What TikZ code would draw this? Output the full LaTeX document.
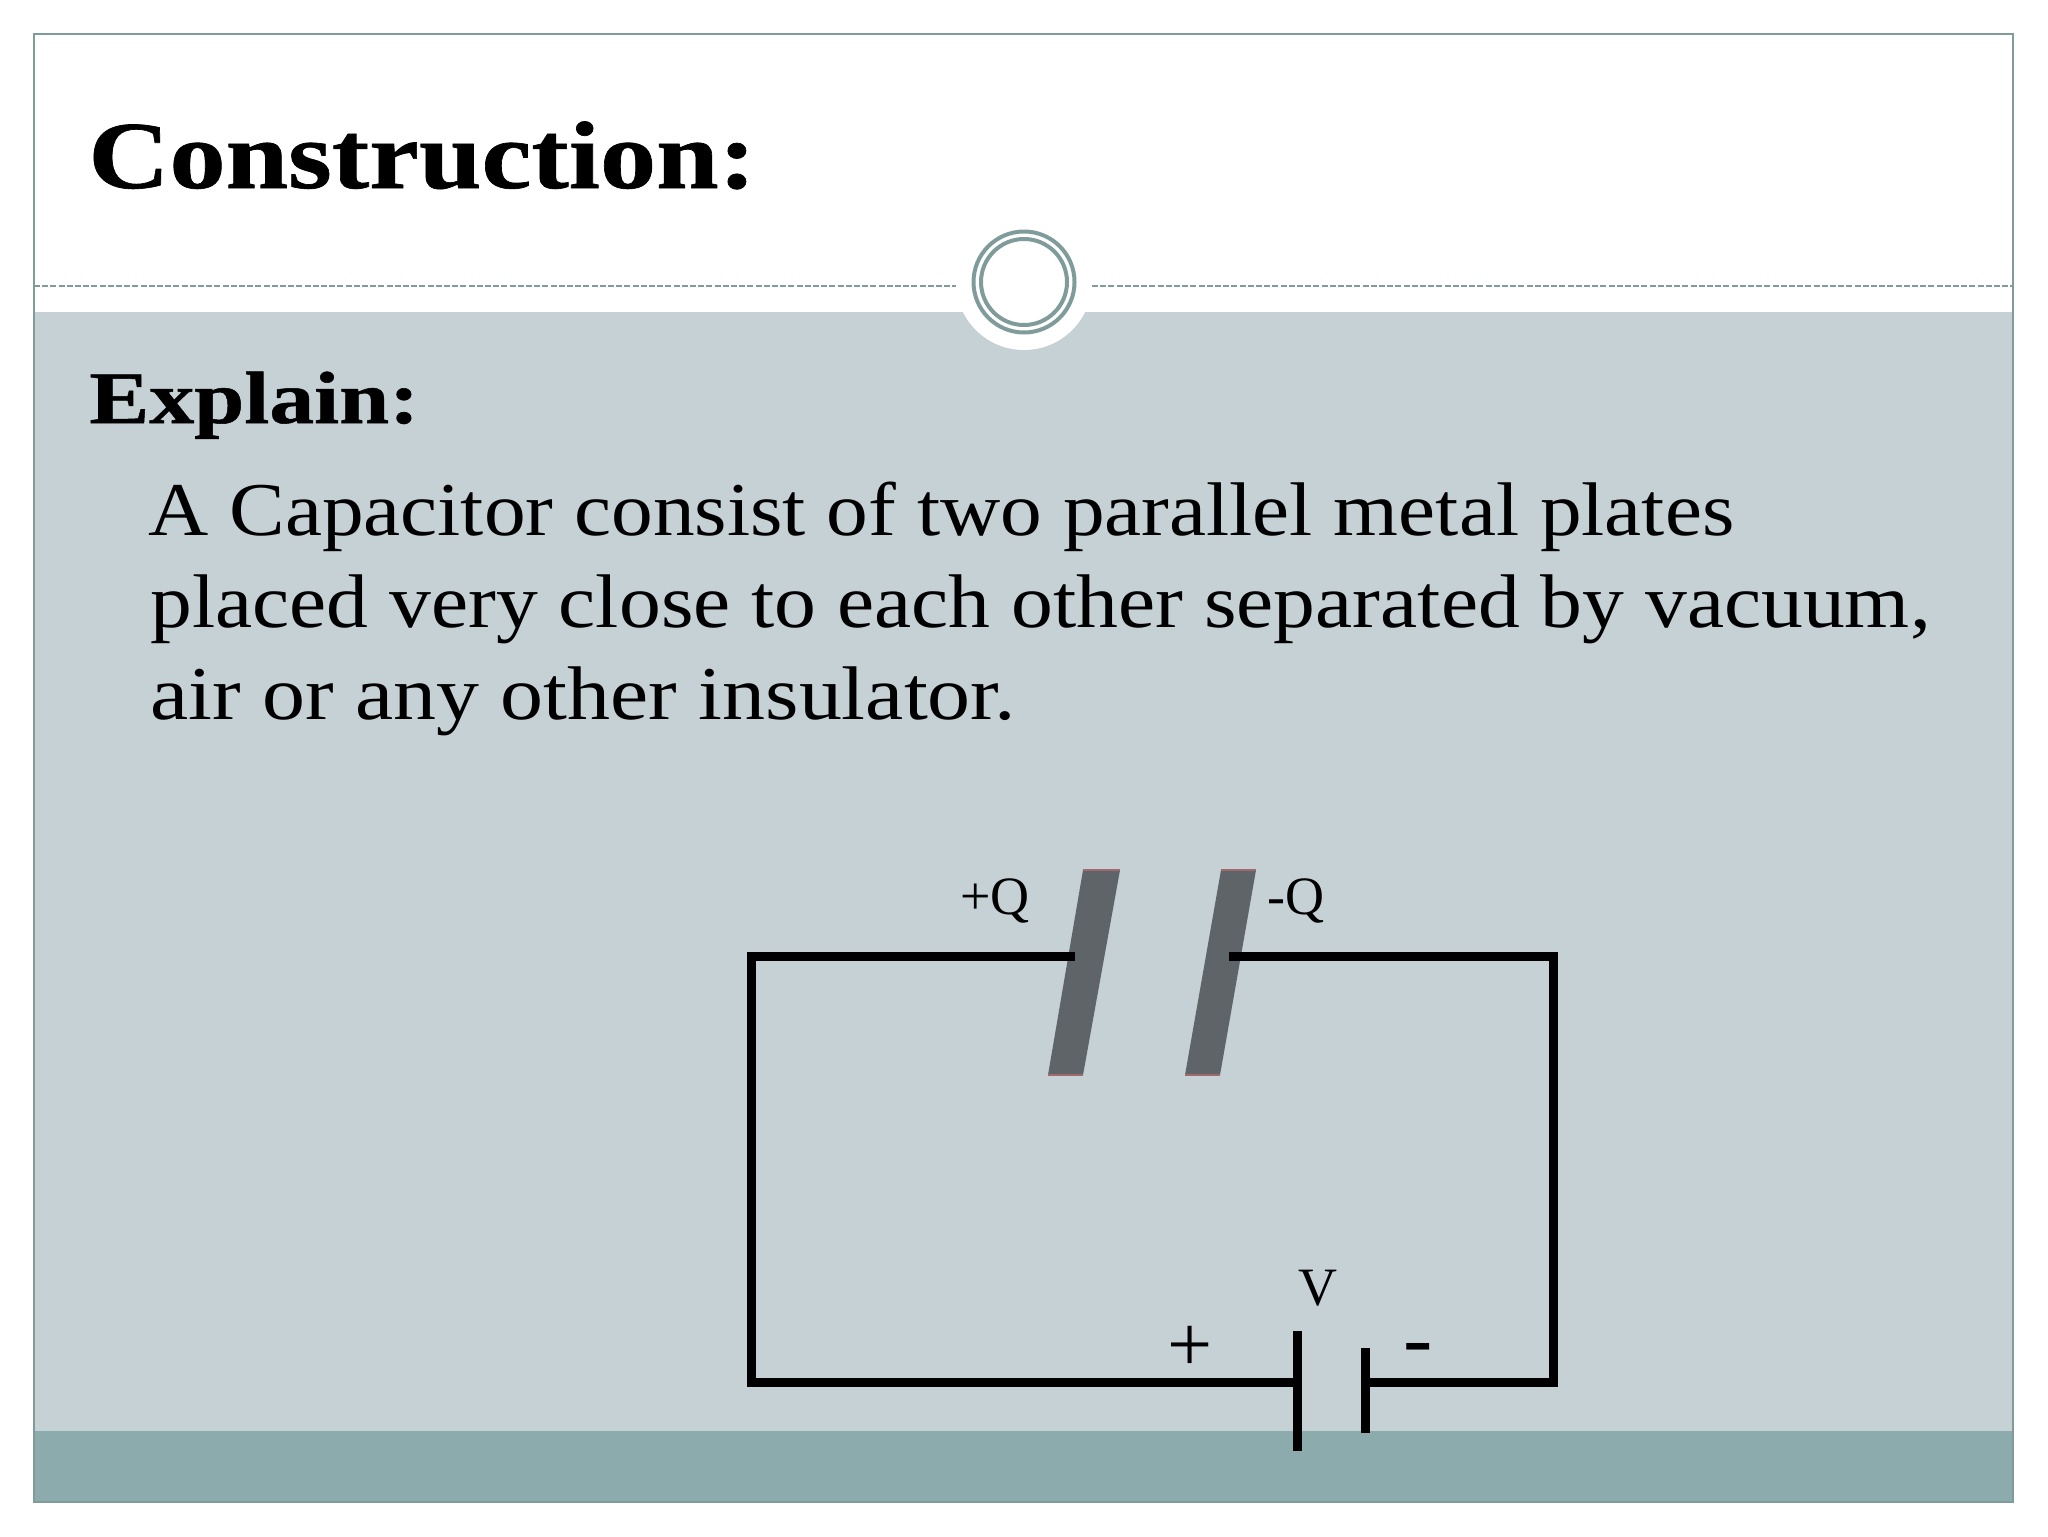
\documentclass[tikz,border=0pt]{standalone}
\usepackage{fontspec}
\setmainfont{Liberation Serif}
\newfontfamily\titlefont[FakeStretch=1.17,FakeBold=0.7]{Liberation Serif Bold}
\newfontfamily\headfont[FakeStretch=1.215,FakeBold=0.7]{Liberation Serif Bold}
\newfontfamily\bodyfont[FakeStretch=1.10]{Liberation Serif}
\newfontfamily\bodyfontwide[FakeStretch=1.13]{Liberation Serif}
\definecolor{framec}{HTML}{7F9C9B}
\definecolor{bodyc}{HTML}{C5D1D5}
\definecolor{footc}{HTML}{8CABAC}
\definecolor{platec}{HTML}{5F6468}
\definecolor{edgec}{HTML}{A06A6C}
\tikzset{
  wire/.style={line width=4.5pt,black,line cap=butt,line join=miter},
  capplate/.style={fill=platec,draw=none},
  plateedge/.style={draw=edgec,line width=1.2pt},
  ringline/.style={draw=framec,line width=2pt},
  dashrule/.style={draw=framec,line width=1pt,dash pattern=on 3pt off 1.1pt},
  title/.style={anchor=base west,inner sep=0pt,font=\titlefont\fontsize{48}{48}\selectfont},
  head/.style={anchor=base west,inner sep=0pt,font=\headfont\fontsize{37}{37}\selectfont},
  bodytext/.style={anchor=base west,inner sep=0pt,font=\bodyfont\fontsize{38}{38}\selectfont},
  small/.style={anchor=base west,inner sep=0pt,font=\fontsize{27}{27}\selectfont},
  sign/.style={anchor=base,inner sep=0pt,font=\fontsize{40}{40}\selectfont}
}
\begin{document}
\begin{tikzpicture}[x=0.5pt,y=-0.5pt]
\useasboundingbox (0,0) rectangle (2048,1536);
\fill[white] (0,0) rectangle (2048,1536);
% panels
\fill[bodyc] (34,312) rectangle (2013,1431);
\fill[footc] (34,1431) rectangle (2013,1502);
\draw[framec,line width=1pt] (34,34) rectangle (2013,1502);
% header rule and medallion
\fill[white] (1024,282) circle[radius=68];
\draw[dashrule] (34,286) -- (956,286);
\draw[dashrule] (1092,286) -- (2013,286);
\draw[ringline] (1024,282) circle[radius=50.5];
\draw[ringline] (1024,282) circle[radius=43];
% text
\node[title] (t) at (88,188) {Construction:};
\node[head] (h) at (89,423) {Explain:};
\node[bodytext] (l1) at (148,535) {{\addfontfeature{FakeStretch=1.097}A Capacitor consist of two parallel metal plates}};
\node[bodytext] (l2) at (150,627) {placed very close to each other separated by vacuum,};
\node[bodytext,font=\bodyfontwide\fontsize{38}{38}\selectfont] (l3) at (150,719) {air or any other insulator.};
% capacitor plates
\fill[capplate] (1083,870) -- (1120,870) -- (1083,1075) -- (1048,1075) -- cycle;
\fill[capplate] (1221,870) -- (1256,870) -- (1220,1075) -- (1185,1075) -- cycle;
\draw[plateedge] (1083,870) -- (1120,870);
\draw[plateedge] (1048,1075) -- (1083,1075);
\draw[plateedge] (1221,870) -- (1256,870);
\draw[plateedge] (1185,1075) -- (1220,1075);
% circuit
\coordinate (capL) at (1075,956);
\coordinate (capR) at (1229,956);
\coordinate (tl) at (751,956);
\coordinate (tr) at (1553,956);
\coordinate (bl) at (751,1382);
\coordinate (br) at (1553,1382);
\coordinate (batL) at (1297,1382);
\coordinate (batR) at (1365,1382);
\draw[wire] (capL) -- (tl) -- (bl) -- (batL);
\draw[wire] (capR) -- (tr) -- (br) -- (batR);
\draw[wire] (1297,1331) -- (1297,1451);
\draw[wire] (1365,1348) -- (1365,1433);
% labels
\node[small] (pq) at (960,914) {+Q};
\node[small] (mq) at (1267,914) {-Q};
\node[small,anchor=base] (v) at (1318,1305) {V};
\node[sign] (plus) at (1190,1371) {+};
\node[sign,font=\fontsize{44}{44}\selectfont] (minus) at (1418,1367) {-};
\end{tikzpicture}
\end{document}
